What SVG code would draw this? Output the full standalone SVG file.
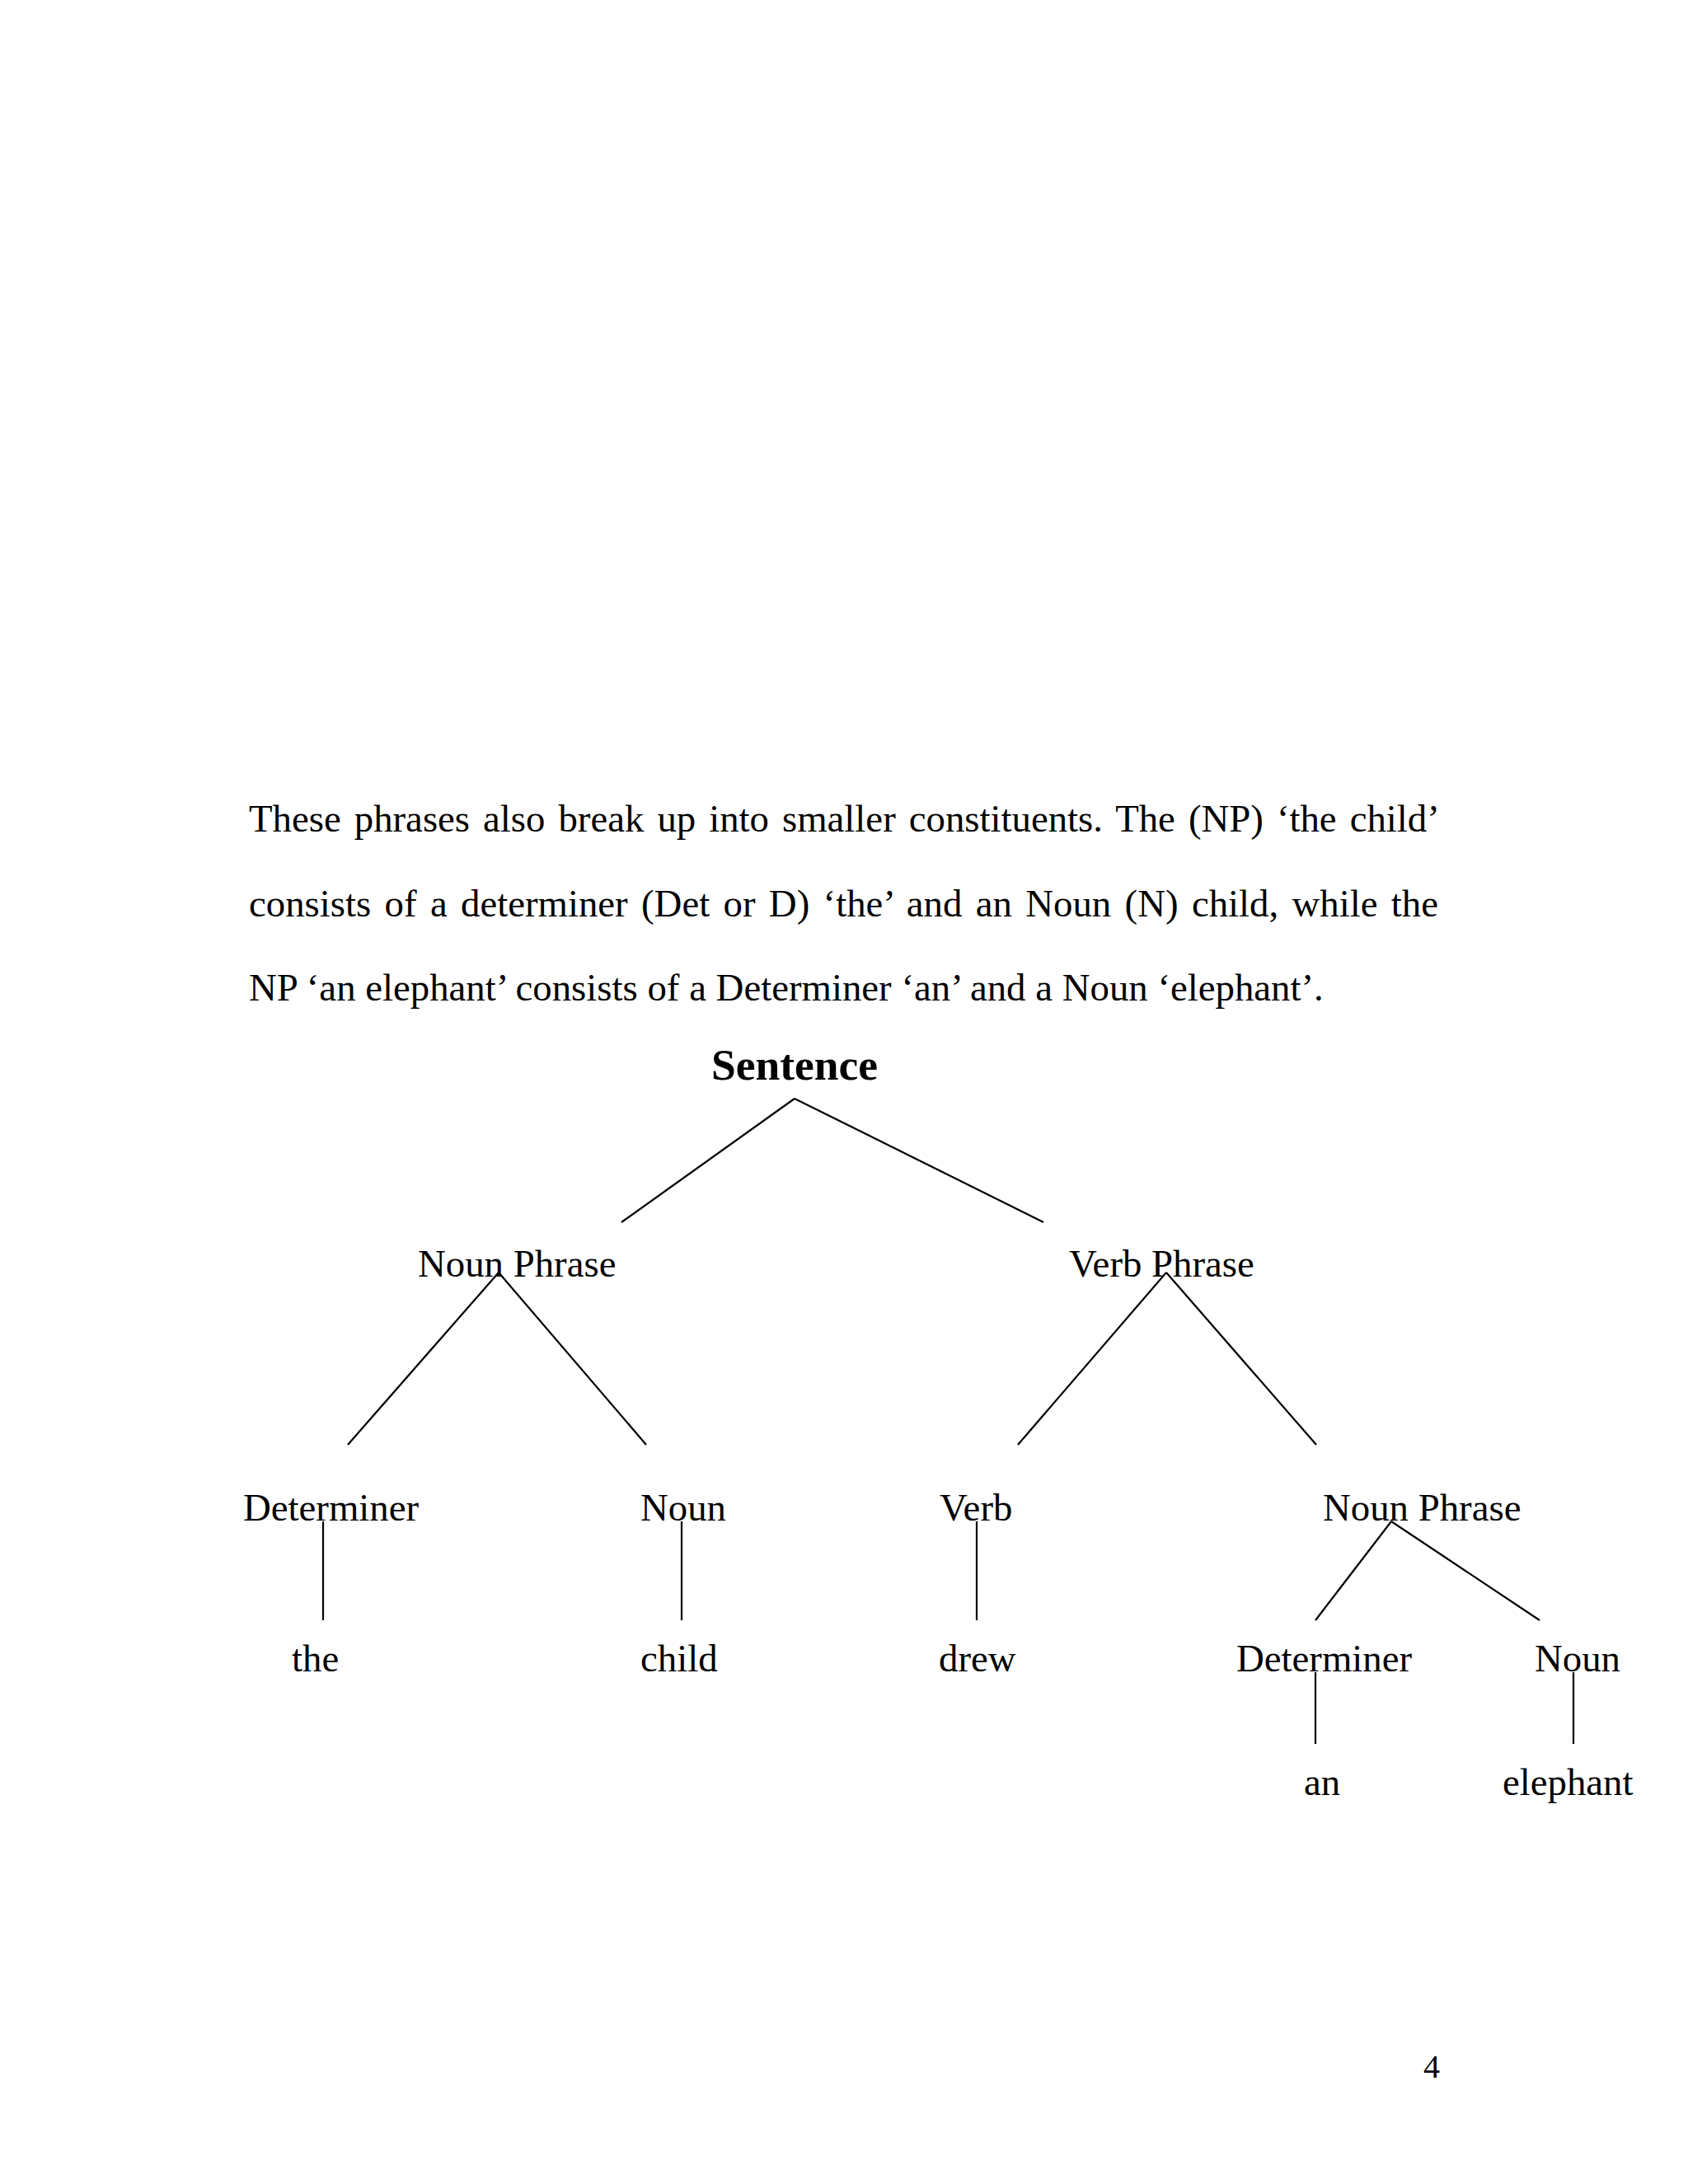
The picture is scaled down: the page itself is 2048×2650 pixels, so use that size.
<svg xmlns="http://www.w3.org/2000/svg" width="2048" height="2650" viewBox="0 0 2048 2650">
<style>
text{font-family:"Liberation Serif","Times New Roman",serif;font-size:46.8px;fill:#000}
.b{font-weight:bold;font-size:53.5px}
.pg{font-size:40px}
line{stroke:#000;stroke-width:2.2;stroke-linecap:butt}
</style>
<rect width="2048" height="2650" fill="#fff"/>
<g id="paragraph">
<text x="302" y="1009" word-spacing="4.3">These phrases also break up into smaller constituents. The (NP) ‘the child’</text>
<text x="302" y="1112" word-spacing="4.65">consists of a determiner (Det or D) ‘the’ and an Noun (N) child, while the</text>
<text x="302" y="1214">NP ‘an elephant’ consists of a Determiner ‘an’ and a Noun ‘elephant’.</text>
</g>
<g id="connectors">
<line x1="964" y1="1333" x2="754" y2="1483"/>
<line x1="964" y1="1333" x2="1266" y2="1483"/>
<line x1="605" y1="1544" x2="422" y2="1753"/>
<line x1="605" y1="1544" x2="784" y2="1753"/>
<line x1="1415" y1="1544" x2="1235" y2="1753"/>
<line x1="1415" y1="1544" x2="1597" y2="1753"/>
<line x1="392" y1="1846" x2="392" y2="1966"/>
<line x1="827" y1="1846" x2="827" y2="1966"/>
<line x1="1185" y1="1846" x2="1185" y2="1966"/>
<line x1="1688" y1="1846" x2="1596" y2="1966"/>
<line x1="1688" y1="1846" x2="1868" y2="1966"/>
<line x1="1596" y1="2029" x2="1596" y2="2116"/>
<line x1="1909" y1="2029" x2="1909" y2="2116"/>
</g>
<g id="n-sentence"><text class="b" x="863" y="1310">Sentence</text></g>
<g id="n-np1"><text x="507" y="1549">Noun Phrase</text></g>
<g id="n-vp"><text x="1297" y="1549">Verb Phrase</text></g>
<g id="n-det1"><text x="295" y="1845">Determiner</text></g>
<g id="n-noun1"><text x="777" y="1845">Noun</text></g>
<g id="n-verb"><text x="1140" y="1845">Verb</text></g>
<g id="n-np2"><text x="1605" y="1845">Noun Phrase</text></g>
<g id="n-the"><text x="354" y="2028">the</text></g>
<g id="n-child"><text x="777" y="2028">child</text></g>
<g id="n-drew"><text x="1139" y="2028">drew</text></g>
<g id="n-det2"><text x="1500" y="2028">Determiner</text></g>
<g id="n-noun2"><text x="1862" y="2028">Noun</text></g>
<g id="n-an"><text x="1582" y="2178">an</text></g>
<g id="n-elephant"><text x="1823" y="2178">elephant</text></g>
<g id="pagenum"><text class="pg" x="1727" y="2521">4</text></g>
</svg>
